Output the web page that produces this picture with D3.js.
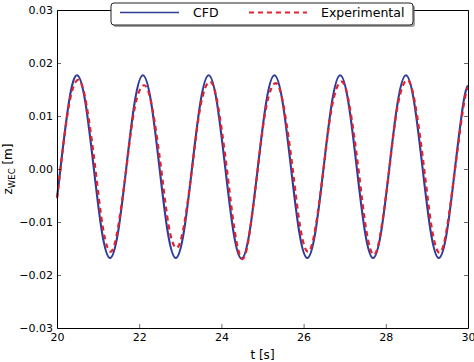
<!DOCTYPE html>
<html>
<head>
<meta charset="utf-8">
<script src="https://cdnjs.cloudflare.com/ajax/libs/d3/7.8.5/d3.min.js"></script>
<style>
    body { margin: 0; background: #fff; }
    svg { display: block; font-family: "DejaVu Sans", sans-serif; }
</style>
</head>
<body>
<div id="chart"></div>
<script>
/* Values. */
var cfdTime = [20.00, 20.09, 20.29, 20.49, 20.69, 20.89, 21.09, 21.29, 21.49,
    21.69, 21.89, 22.09, 22.29, 22.49, 22.69, 22.89, 23.09,
    23.29, 23.49, 23.69, 23.89, 24.09, 24.29, 24.49, 24.69,
    24.89, 25.09, 25.29, 25.49, 25.69, 25.89, 26.09, 26.29,
    26.49, 26.69, 26.89, 27.09, 27.29, 27.49, 27.69, 27.89,
    28.09, 28.29, 28.49, 28.69, 28.89, 29.09, 29.29, 29.49,
    29.69, 29.89, 30.00];
var cfdZ = [-0.0055, 0.0005, 0.0126, 0.0177, 0.0126, 0.0005, -0.0117, -0.0168, -0.0117,
    0.0005, 0.0126, 0.0177, 0.0126, 0.0005, -0.0117, -0.0168, -0.0117,
    0.0005, 0.0126, 0.0177, 0.0126, 0.0005, -0.0117, -0.0169, -0.0117,
    0.0005, 0.0126, 0.0177, 0.0126, 0.0005, -0.0117, -0.0168, -0.0117,
    0.0005, 0.0126, 0.0177, 0.0126, 0.0005, -0.0117, -0.0168, -0.0117,
    0.0005, 0.0126, 0.0177, 0.0126, 0.0005, -0.0117, -0.0168, -0.0117,
    0.0005, 0.0126, 0.0158];

var expTime = [20.00, 20.09, 20.29, 20.52, 20.72, 20.93, 21.12, 21.31, 21.49,
    21.69, 21.89, 22.12, 22.32, 22.53, 22.72, 22.91, 23.09,
    23.29, 23.49, 23.72, 23.92, 24.13, 24.32, 24.51, 24.69,
    24.89, 25.09, 25.32, 25.52, 25.73, 25.92, 26.11, 26.29,
    26.49, 26.69, 26.92, 27.12, 27.33, 27.52, 27.71, 27.89,
    28.09, 28.29, 28.52, 28.72, 28.93, 29.12, 29.31, 29.49,
    29.69, 29.89, 30.00];
var expZ = [-0.0055, 0.0003, 0.0120, 0.0168, 0.0120, 0.0003, -0.0112, -0.0156, -0.0108,
    0.0003, 0.0115, 0.0158, 0.0114, 0.0003, -0.0108, -0.0149, -0.0106,
    0.0003, 0.0118, 0.0165, 0.0118, 0.0002, -0.0115, -0.0170, -0.0118,
    0.0003, 0.0117, 0.0162, 0.0116, 0.0003, -0.0111, -0.0156, -0.0110,
    0.0003, 0.0118, 0.0165, 0.0118, 0.0003, -0.0113, -0.0162, -0.0113,
    0.0003, 0.0120, 0.0168, 0.0120, 0.0003, -0.0112, -0.0158, -0.0110,
    0.0003, 0.0118, 0.0155];

var xTicks = [20, 22, 24, 26, 28, 30];
var yTicks = [-0.03, -0.02, -0.01, 0.00, 0.01, 0.02, 0.03];
var seriesNames = ["CFD", "Experimental"];

var width = 474, height = 362;
var margin = {top: 10, right: 6, bottom: 34, left: 57};
var innerW = width - margin.left - margin.right;
var innerH = height - margin.top - margin.bottom;

var blue = "#2f3c98";
var red = "#e3222f";

var svg = d3.select("#chart").append("svg")
    .attr("width", width)
    .attr("height", height);

var x = d3.scaleLinear().domain([20, 30]).range([0, innerW]);
var y = d3.scaleLinear().domain([-0.03, 0.03]).range([innerH, 0]);

var g = svg.append("g")
    .attr("transform", "translate(" + margin.left + "," + margin.top + ")");

/* Curves */
var line = d3.line()
    .x(function(d) { return x(d[0]); })
    .y(function(d) { return y(d[1]); })
    .curve(d3.curveNatural);

var cfdData = cfdTime.map(function(t, i) { return [t, cfdZ[i]]; });
var expData = expTime.map(function(t, i) { return [t, expZ[i]]; });

g.append("path")
    .datum(cfdData)
    .attr("d", line)
    .attr("fill", "none")
    .attr("stroke", blue)
    .attr("stroke-width", 2.1);

g.append("path")
    .datum(expData)
    .attr("d", line)
    .attr("fill", "none")
    .attr("stroke", red)
    .attr("stroke-width", 2.2)
    .attr("stroke-dasharray", "5,4");

/* Axes, ticks pointing inward on all four sides like matplotlib classic */
var fmtY = d3.format(".2f");

g.append("g")
    .attr("transform", "translate(0," + innerH + ")")
    .call(d3.axisBottom(x).tickValues(xTicks).tickSizeInner(-4).tickSizeOuter(0).tickPadding(5))
    .call(styleAxis);

g.append("g")
    .call(d3.axisTop(x).tickValues(xTicks).tickSizeInner(-4).tickSizeOuter(0).tickFormat(""))
    .call(styleAxis);

g.append("g")
    .call(d3.axisLeft(y).tickValues(yTicks).tickSizeInner(-4).tickSizeOuter(0).tickPadding(4).tickFormat(fmtY))
    .call(styleAxis);

g.append("g")
    .attr("transform", "translate(" + innerW + ",0)")
    .call(d3.axisRight(y).tickValues(yTicks).tickSizeInner(-4).tickSizeOuter(0).tickFormat(""))
    .call(styleAxis);

function styleAxis(sel) {
    sel.select(".domain").attr("stroke", "#000").attr("stroke-width", 1);
    sel.selectAll(".tick line").attr("stroke", "#000").attr("stroke-width", 0.6);
    sel.selectAll(".tick text")
        .attr("fill", "#000")
        .style("font-size", "11px")
        .style("font-family", "DejaVu Sans, sans-serif");
}

/* Axis labels */
svg.append("text")
    .attr("x", margin.left + innerW / 2)
    .attr("y", 359)
    .attr("text-anchor", "middle")
    .style("font-size", "12px")
    .text("t [s]");

var ylab = svg.append("text")
    .attr("transform", "translate(12," + (margin.top + innerH / 2) + ") rotate(-90)")
    .attr("text-anchor", "middle")
    .style("font-size", "12px");
ylab.append("tspan").text("z");
ylab.append("tspan").attr("dy", 3).style("font-size", "8.5px").text("WEC");
ylab.append("tspan").attr("dy", -3).text(" [m]");

/* Legend with shadow, above the top spine */
var legend = svg.append("g").attr("transform", "translate(111,3)");
var legW = 302, legH = 22;

legend.append("rect")
    .attr("x", 2).attr("y", 2)
    .attr("width", legW).attr("height", legH)
    .attr("rx", 3)
    .attr("fill", "#777")
    .attr("opacity", 0.7);

legend.append("rect")
    .attr("width", legW).attr("height", legH)
    .attr("rx", 3)
    .attr("fill", "#fff")
    .attr("stroke", "#222")
    .attr("stroke-width", 1);

var legItems = [
    {name: seriesNames[0], color: blue, dash: null, x0: 9, x1: 68, tx: 82},
    {name: seriesNames[1], color: red, dash: "5,4", x0: 138, x1: 196, tx: 210}
];

legItems.forEach(function(item) {
    legend.append("line")
        .attr("x1", item.x0).attr("x2", item.x1)
        .attr("y1", 9.5).attr("y2", 9.5)
        .attr("stroke", item.color)
        .attr("stroke-width", item.dash ? 2 : 1.6)
        .attr("stroke-dasharray", item.dash);
    legend.append("text")
        .attr("x", item.tx)
        .attr("y", 14)
        .style("font-size", "12.5px")
        .text(item.name);
});
</script>
</body>
</html>
